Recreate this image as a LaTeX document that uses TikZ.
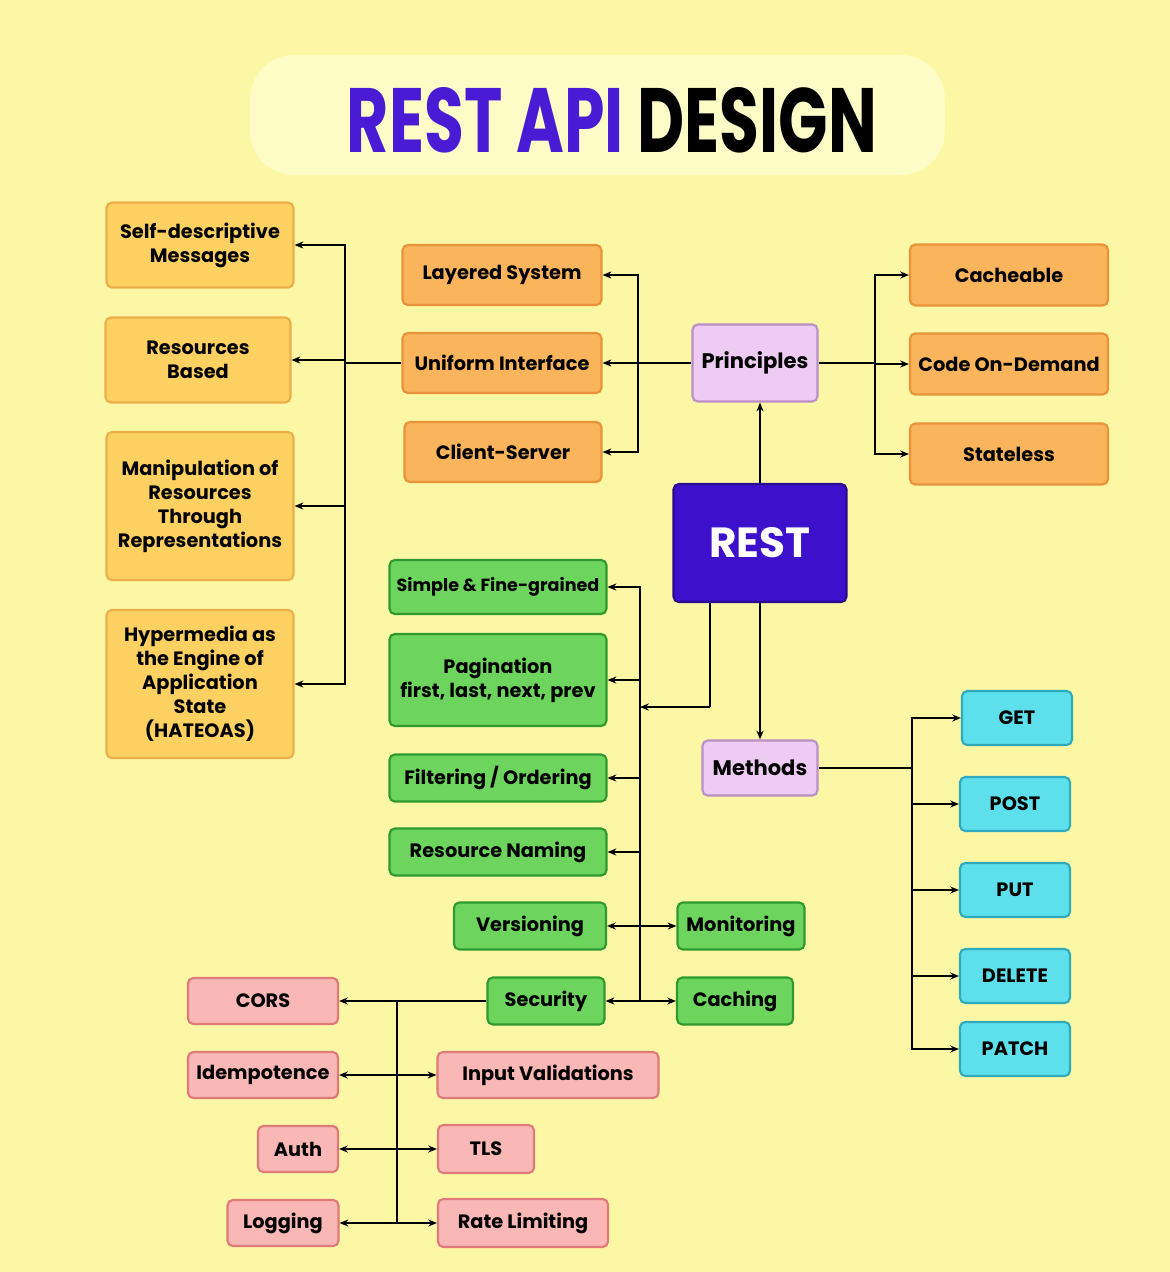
\documentclass[tikz,border=0pt]{standalone}
\usepackage{fontspec}
\setmainfont{Poppins}
\usetikzlibrary{arrows.meta,positioning}
\definecolor{bgyellow}{HTML}{FCF7A4}
\definecolor{titlebg}{HTML}{FDFCC6}
\definecolor{restpurple}{HTML}{3D10CC}
\definecolor{titlepurple}{HTML}{4A1BD4}
\definecolor{orangefill}{HTML}{F9B45C}
\definecolor{orangeline}{HTML}{E8923A}
\definecolor{goldfill}{HTML}{FDD062}
\definecolor{goldline}{HTML}{EDAE4A}
\definecolor{lilacfill}{HTML}{EDCBF2}
\definecolor{lilacline}{HTML}{B98FC6}
\definecolor{greenfill}{HTML}{6DD45E}
\definecolor{greenline}{HTML}{2E9A2E}
\definecolor{cyanfill}{HTML}{5EE0EC}
\definecolor{cyanline}{HTML}{2FA9BC}
\definecolor{pinkfill}{HTML}{F9B7B5}
\definecolor{pinkline}{HTML}{E07A7A}
\tikzset{
  box/.style={draw,line width=1.2pt,rounded corners=3pt,align=center,inner sep=2pt,
    font=\bfseries\fontsize{11}{13.6}\selectfont},
  orangebox/.style={box,fill=orangefill,draw=orangeline},
  goldbox/.style={box,fill=goldfill,draw=goldline},
  lilacbox/.style={box,fill=lilacfill,draw=lilacline,font=\bfseries\fontsize{12}{14}\selectfont},
  greenbox/.style={box,fill=greenfill,draw=greenline},
  cyanbox/.style={box,fill=cyanfill,draw=cyanline},
  pinkbox/.style={box,fill=pinkfill,draw=pinkline},
  link/.style={line width=0.9pt,-{Stealth[length=5pt,width=4pt]}},
  twolink/.style={line width=0.9pt,{Stealth[length=5pt,width=4pt]}-{Stealth[length=5pt,width=4pt]}},
  bus/.style={line width=0.9pt}
}
\begin{document}
\begin{tikzpicture}[x=0.02cm,y=-0.02cm]
  \useasboundingbox (0,0) rectangle (1170,1272);
  \fill[bgyellow] (0,0) rectangle (1170,1272);
  % Title
  \fill[titlebg,rounded corners=25pt] (250,55) rectangle (945,175);
  \node (title) at (612,120) {\resizebox{10.6cm}{1.3cm}{\bfseries\textcolor{titlepurple}{REST API} DESIGN}};
  % Principles part
  \node[box,fill=restpurple,draw=restpurple!70!black,text=white,minimum width=3.46cm,minimum height=2.36cm,
        font=\bfseries\fontsize{24}{26}\selectfont] (rest) at (760,543) {REST};
  \node[lilacbox,minimum width=2.5cm,minimum height=1.54cm] (principles) at (755,363) {Principles};
  \node[orangebox,minimum width=3.98cm,minimum height=1.2cm] (layered) at (502,275) {Layered System};
  \node[orangebox,minimum width=3.98cm,minimum height=1.2cm] (uniform) at (502,363) {Uniform Interface};
  \node[orangebox,minimum width=3.94cm,minimum height=1.2cm] (client) at (503,452) {Client-Server};
  \node[orangebox,minimum width=3.96cm,minimum height=1.22cm] (cacheable) at (1009,275) {Cacheable};
  \node[orangebox,minimum width=3.96cm,minimum height=1.22cm] (code) at (1009,364) {Code On-Demand};
  \node[orangebox,minimum width=3.96cm,minimum height=1.22cm] (stateless) at (1009,454) {Stateless};
  \node[goldbox,minimum width=3.74cm,minimum height=1.7cm] (selfdesc) at (200,245) {Self-descriptive\\Messages};
  \node[goldbox,minimum width=3.7cm,minimum height=1.7cm] (resbased) at (198,360) {Resources\\Based};
  \node[goldbox,minimum width=3.74cm,minimum height=2.96cm] (manip) at (200,506) {Manipulation of\\Resources\\Through\\Representations};
  \node[goldbox,minimum width=3.74cm,minimum height=2.96cm] (hateoas) at (200,684) {Hypermedia as\\the Engine of\\Application\\State\\(HATEOAS)};
  % Guidelines part
  \node[greenbox,minimum width=4.34cm,minimum height=1.08cm,font=\bfseries\fontsize{10}{12}\selectfont] (simple) at (498,587) {Simple \& Fine-grained};
  \node[greenbox,minimum width=4.34cm,minimum height=1.84cm] (pagination) at (498,680) {Pagination\\first, last, next, prev};
  \node[greenbox,minimum width=4.34cm,minimum height=0.94cm] (filtering) at (498,778) {Filtering / Ordering};
  \node[greenbox,minimum width=4.34cm,minimum height=0.94cm] (naming) at (498,852) {Resource Naming};
  \node[greenbox,minimum width=3.04cm,minimum height=0.94cm] (versioning) at (530,926) {Versioning};
  \node[greenbox,minimum width=2.54cm,minimum height=0.94cm] (monitoring) at (741,926) {Monitoring};
  \node[greenbox,minimum width=2.34cm,minimum height=0.94cm] (security) at (546,1001) {Security};
  \node[greenbox,minimum width=2.32cm,minimum height=0.94cm] (caching) at (735,1001) {Caching};
  % Methods part
  \node[lilacbox,minimum width=2.3cm,minimum height=1.1cm] (methods) at (760,768) {Methods};
  \node[cyanbox,minimum width=2.2cm,minimum height=1.08cm] (get) at (1017,718) {GET};
  \node[cyanbox,minimum width=2.2cm,minimum height=1.08cm] (post) at (1015,804) {POST};
  \node[cyanbox,minimum width=2.2cm,minimum height=1.08cm] (put) at (1015,890) {PUT};
  \node[cyanbox,minimum width=2.2cm,minimum height=1.08cm] (delete) at (1015,976) {DELETE};
  \node[cyanbox,minimum width=2.2cm,minimum height=1.08cm] (patch) at (1015,1049) {PATCH};
  % Security part
  \node[pinkbox,minimum width=3cm,minimum height=0.92cm] (cors) at (263,1001) {CORS};
  \node[pinkbox,minimum width=3cm,minimum height=0.92cm] (idem) at (263,1075) {Idempotence};
  \node[pinkbox,minimum width=4.42cm,minimum height=0.92cm] (input) at (548,1075) {Input Validations};
  \node[pinkbox,minimum width=1.6cm,minimum height=0.92cm] (auth) at (298,1149) {Auth};
  \node[pinkbox,minimum width=1.92cm,minimum height=0.96cm] (tls) at (486,1149) {TLS};
  \node[pinkbox,minimum width=2.22cm,minimum height=0.92cm] (logging) at (283,1223) {Logging};
  \node[pinkbox,minimum width=3.4cm,minimum height=0.96cm] (rate) at (523,1223) {Rate Limiting};
  % Buses
  \coordinate (pbus) at (638,363);
  \coordinate (ubus) at (345,363);
  \coordinate (cbus) at (875,363);
  \coordinate (rbus) at (710,707);
  \coordinate (gbus) at (640,707);
  \coordinate (mbus) at (912,778);
  \coordinate (sbus) at (397,1001);
  \draw[link] (rest.north) -- (rest.north |- principles.south);
  \draw[link] (principles.west) -- (uniform.east);
  \draw[bus] (pbus |- layered.east) -- (pbus |- client.east);
  \draw[link] (pbus) |- (layered.east);
  \draw[link] (pbus) |- (client.east);
  \draw[bus] (uniform.west) -- (ubus);
  \draw[bus] (ubus |- selfdesc.east) -- (ubus |- hateoas.east);
  \foreach \n in {selfdesc,resbased,manip,hateoas}
    \draw[link] (ubus) |- (\n.east);
  \draw[bus] (principles.east) -- (cbus);
  \draw[bus] (cbus |- cacheable.west) -- (cbus |- stateless.west);
  \foreach \n in {cacheable,code,stateless}
    \draw[link] (cbus) |- (\n.west);
  \draw[link] (rest.south) -- (methods.north);
  \draw[bus] (rest.south -| rbus) -- (rbus);
  \draw[link] (rbus) -- (gbus);
  \draw[bus] (gbus |- simple.east) -- (gbus |- security.east);
  \foreach \n in {simple,pagination,filtering,naming,versioning,security}
    \draw[link] (gbus) |- (\n.east);
  \draw[link] (gbus |- monitoring.west) -- (monitoring.west);
  \draw[link] (gbus |- caching.west) -- (caching.west);
  \draw[bus] (methods.east) -- (methods.east -| mbus);
  \draw[bus] (mbus |- get.west) -- (mbus |- patch.west);
  \foreach \n in {get,post,put,delete,patch}
    \draw[link] (mbus) |- (\n.west);
  \draw[bus] (security.west) -- (sbus);
  \draw[link] (sbus) -- (cors.east);
  \draw[bus] (sbus) -- (sbus |- logging.east);
  \draw[twolink] (idem.east) -- (input.west);
  \draw[twolink] (auth.east) -- (tls.west);
  \draw[twolink] (logging.east) -- (rate.west);
\end{tikzpicture}
\end{document}
